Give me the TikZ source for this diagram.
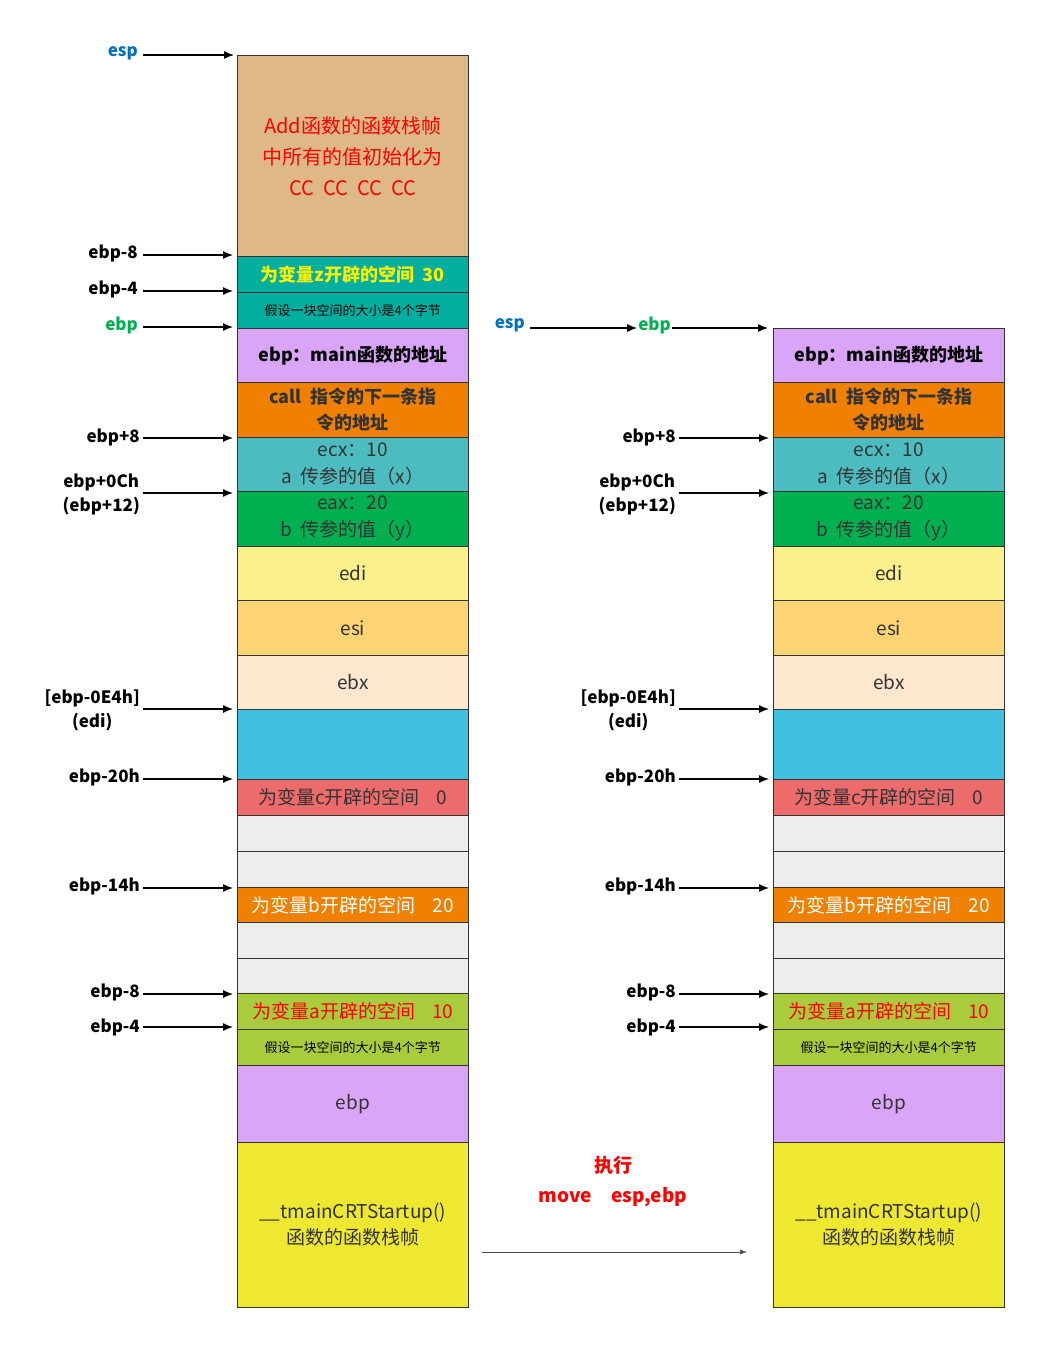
\documentclass[tikz,border=0pt]{standalone}
\usepackage{fontspec}
\setmainfont{Noto Sans CJK SC}
\usetikzlibrary{arrows.meta}
\definecolor{tan}{HTML}{DEB887}
\definecolor{tealz}{HTML}{00AFA0}
\definecolor{viol}{HTML}{DAA4F8}
\definecolor{orng}{HTML}{F08000}
\definecolor{tl}{HTML}{4DBCC0}
\definecolor{grn}{HTML}{00B050}
\definecolor{ly}{HTML}{FCF08C}
\definecolor{lo}{HTML}{FCD474}
\definecolor{bis}{HTML}{FDE7CE}
\definecolor{cy}{HTML}{40C0E0}
\definecolor{sal}{HTML}{EE6B6B}
\definecolor{lg}{HTML}{EDEDED}
\definecolor{ol}{HTML}{A8CC3C}
\definecolor{yel}{HTML}{EEE830}
\definecolor{bl}{HTML}{0070C0}
\definecolor{gr}{HTML}{00B050}
\definecolor{txt}{HTML}{333333}
\newcommand\mycell[7]{\node[cell,fill=#5,minimum height={#4-#3},anchor=north west,#7] (#1) at (#2,#3) {#6};}
\tikzset{cell/.style={draw=black!80,line width=0.6pt,minimum width=231pt,inner sep=0pt,align=center,font=\fontsize{19}{26}\selectfont,text=txt},
 lab/.style={font=\bfseries\fontsize{17}{24}\selectfont,align=center,anchor=east,inner sep=1pt},
 arr/.style={-{Latex[length=10pt,width=8pt]},line width=1.2pt},
 bt/.style={font=\bfseries\fontsize{18}{26}\selectfont},
 sm/.style={font=\fontsize{13}{16}\selectfont,text=black}}
\begin{document}
\begin{tikzpicture}[x=1pt,y=-1pt]
\useasboundingbox (0,0) rectangle (1044,1356);
% left column
\mycell{a1}{237}{55}{256}{tan}{Add函数的函数栈帧\\中所有的值初始化为\\CC\ \ CC\ \ CC\ \ CC}{text=red,font=\fontsize{20}{31}\selectfont}
\mycell{a2}{237}{256}{292}{tealz}{为变量z开辟的空间\ \ 30}{text=yellow,bt}
\mycell{a3}{237}{292}{328}{tealz}{假设一块空间的大小是4个字节}{sm}
\foreach \X/\P in {237/L,773/R}{
\mycell{\P4}{\X}{328}{382}{viol}{ebp：main函数的地址}{bt,text=black}
\mycell{\P5}{\X}{382}{437}{orng}{call\ \ 指令的下一条指\\令的地址}{bt}
\mycell{\P6}{\X}{437}{491}{tl}{ecx：10\\a\ \ 传参的值（x）}{font=\fontsize{19}{27}\selectfont}
\mycell{\P7}{\X}{491}{546}{grn}{eax：20\\b\ \ 传参的值（y）}{font=\fontsize{19}{27}\selectfont}
\mycell{\P8}{\X}{546}{600}{ly}{edi}{}
\mycell{\P9}{\X}{600}{655}{lo}{esi}{}
\mycell{\P10}{\X}{655}{709}{bis}{ebx}{}
\mycell{\P11}{\X}{709}{779}{cy}{}{}
\mycell{\P12}{\X}{779}{815}{sal}{为变量c开辟的空间\ \ \ \ 0}{}
\mycell{\P13}{\X}{815}{851}{lg}{}{}
\mycell{\P14}{\X}{851}{887}{lg}{}{}
\mycell{\P15}{\X}{887}{922}{orng}{为变量b开辟的空间\ \ \ \ 20}{text=white}
\mycell{\P16}{\X}{922}{958}{lg}{}{}
\mycell{\P17}{\X}{958}{993}{lg}{}{}
\mycell{\P18}{\X}{993}{1029}{ol}{为变量a开辟的空间\ \ \ \ 10}{text=red}
\mycell{\P19}{\X}{1029}{1065}{ol}{假设一块空间的大小是4个字节}{sm}
\mycell{\P20}{\X}{1065}{1142}{viol}{ebp}{}
\mycell{\P21}{\X}{1142}{1307}{yel}{\_\_tmainCRTStartup()\\函数的函数栈帧}{}
}
% left labels
\node[lab,text=bl] (lesp) at (139,53) {esp};
\coordinate (tesp) at (234,55); \draw[arr] (143,55) -- (tesp);
\foreach \n/\t/\y/\c in {l1/ebp-8/255/black,l2/ebp-4/291/black,l3/ebp/327/gr}{
 \node[lab,text=\c] (\n) at (139,\y-2) {\t};
 \coordinate (t\n) at (233,\y); \draw[arr] (143,\y) -- (t\n);}
\foreach \D/\P in {0/L,536/R}{
 \node[lab] (\P b8) at (141+\D,437) {ebp+8};
 \coordinate (\P tb8) at (233+\D,438); \draw[arr] (143+\D,438) -- (\P tb8);
 \node[lab] (\P bc) at (141+\D,494) {ebp+0Ch\\(ebp+12)};
 \coordinate (\P tbc) at (233+\D,493); \draw[arr] (143+\D,493) -- (\P tbc);
 \node[lab] (\P be) at (141+\D,710) {[ebp-0E4h]\\(edi)};
 \coordinate (\P tbe) at (233+\D,709); \draw[arr] (143+\D,709) -- (\P tbe);
 \node[lab] (\P b20) at (141+\D,777) {ebp-20h};
 \coordinate (\P tb20) at (233+\D,779); \draw[arr] (143+\D,779) -- (\P tb20);
 \node[lab] (\P b14) at (141+\D,886) {ebp-14h};
 \coordinate (\P tb14) at (233+\D,888); \draw[arr] (143+\D,888) -- (\P tb14);
 \node[lab] (\P bm8) at (141+\D,992) {ebp-8};
 \coordinate (\P tbm8) at (233+\D,994); \draw[arr] (143+\D,994) -- (\P tbm8);
 \node[lab] (\P bm4) at (141+\D,1027) {ebp-4};
 \coordinate (\P tbm4) at (233+\D,1027); \draw[arr] (143+\D,1027) -- (\P tbm4);
}
% right top
\node[lab,text=bl] (resp) at (526,325) {esp};
\node[lab,text=gr] (rebp) at (672,325) {ebp};
\draw[arr] (resp.east) ++(4,3) -- (rebp.west |- 0,328) coordinate (x1);
\coordinate (trebp) at (768,328); \draw[arr] (rebp.east |- 0,328) -- (trebp);
% bottom
\node[font=\bfseries\fontsize{19}{26}\selectfont,text=red] (ex) at (613,1165) {执行};
\node[font=\bfseries\fontsize{19}{26}\selectfont,text=red] (mv) at (613,1197) {move\quad esp,ebp};
\coordinate (m1) at (482,1252); \coordinate (m2) at (747,1252);
\draw[-{Latex[length=7pt,width=5pt]},line width=0.5pt,black!70] (m1) -- (m2);
\end{tikzpicture}
\end{document}
